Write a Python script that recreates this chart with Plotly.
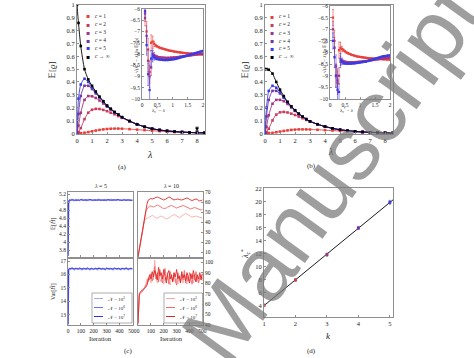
import plotly.graph_objects as go
import numpy as np

W, H = 474, 358
FONT = "Liberation Serif"

# ---------------- panel (a)/(b) data ----------------
lam = [0, 0.1, 0.25, 0.5, 0.75, 1, 1.25, 1.5, 1.75, 2, 2.25, 2.5, 2.75, 3,
       3.5, 4, 4.5, 5, 5.5, 6, 6.5, 7, 7.5, 8, 8.5]

a_inf = [1.0, 0.86, 0.68, 0.50, 0.42, 0.37, 0.325, 0.285, 0.25, 0.215, 0.19, 0.165, 0.145, 0.125,
         0.095, 0.07, 0.05, 0.035, 0.025, 0.018, 0.013, 0.009, 0.006, 0.004, 0.003]
a_c5 = [0, 0.27, 0.38, 0.425, 0.40, 0.36, 0.32, 0.283, 0.248, 0.214, 0.19, 0.165, 0.145, 0.125,
        0.095, 0.07, 0.05, 0.035, 0.025, 0.018, 0.013, 0.009, 0.006, 0.004, 0.003]
a_c4 = [0, 0.15, 0.29, 0.37, 0.37, 0.345, 0.31, 0.278, 0.245, 0.213, 0.189, 0.165, 0.145, 0.125,
        0.095, 0.07, 0.05, 0.035, 0.025, 0.018, 0.013, 0.009, 0.006, 0.004, 0.003]
a_c3 = [0, 0.06, 0.16, 0.26, 0.29, 0.288, 0.275, 0.255, 0.232, 0.207, 0.185, 0.162, 0.143, 0.124,
        0.094, 0.07, 0.05, 0.035, 0.025, 0.018, 0.013, 0.009, 0.006, 0.004, 0.003]
a_c2 = [0, 0.01, 0.04, 0.11, 0.16, 0.183, 0.19, 0.189, 0.182, 0.172, 0.16, 0.148, 0.134, 0.12,
        0.093, 0.069, 0.05, 0.035, 0.025, 0.018, 0.013, 0.009, 0.006, 0.004, 0.003]
a_c1 = [0, 0, 0.001, 0.004, 0.009, 0.015, 0.021, 0.026, 0.03, 0.033, 0.035, 0.036, 0.036, 0.035,
        0.032, 0.028, 0.024, 0.02, 0.016, 0.012, 0.009, 0.007, 0.005, 0.004, 0.003]
a_outlier_x = [8]
a_outlier_y = [0.035]
a_outlier_err = [0.012]

b_inf = [0.5, 0.5, 0.495, 0.465, 0.40, 0.34, 0.29, 0.245, 0.21, 0.18, 0.152, 0.13, 0.11, 0.093,
         0.07, 0.052, 0.038, 0.027, 0.02, 0.014, 0.01, 0.007, 0.005, 0.003, 0.002]
b_c5 = [0, 0.2, 0.33, 0.37, 0.355, 0.32, 0.282, 0.243, 0.209, 0.179, 0.152, 0.13, 0.11, 0.093,
        0.07, 0.052, 0.038, 0.027, 0.02, 0.014, 0.01, 0.007, 0.005, 0.003, 0.002]
b_c4 = [0, 0.13, 0.26, 0.33, 0.33, 0.31, 0.277, 0.24, 0.207, 0.178, 0.151, 0.13, 0.11, 0.093,
        0.07, 0.052, 0.038, 0.027, 0.02, 0.014, 0.01, 0.007, 0.005, 0.003, 0.002]
b_c3 = [0, 0.05, 0.14, 0.23, 0.26, 0.26, 0.25, 0.228, 0.2, 0.174, 0.149, 0.128, 0.109, 0.092,
        0.07, 0.052, 0.038, 0.027, 0.02, 0.014, 0.01, 0.007, 0.005, 0.003, 0.002]
b_c2 = [0, 0.01, 0.035, 0.1, 0.145, 0.163, 0.166, 0.162, 0.153, 0.142, 0.13, 0.117, 0.104, 0.09,
        0.069, 0.052, 0.038, 0.027, 0.02, 0.014, 0.01, 0.007, 0.005, 0.003, 0.002]
b_c1 = [0, 0, 0.001, 0.003, 0.008, 0.013, 0.018, 0.022, 0.026, 0.028, 0.03, 0.03, 0.03, 0.029,
        0.027, 0.024, 0.021, 0.018, 0.015, 0.012, 0.009, 0.007, 0.005, 0.003, 0.002]

# ---------------- inset data ----------------
ix = [0.10, 0.15, 0.20, 0.25, 0.30, 0.35, 0.40, 0.45, 0.50, 0.55, 0.60, 0.65, 0.70, 0.75, 0.80,
      0.85, 0.90, 0.95, 1.00, 1.05, 1.10, 1.15, 1.20, 1.25, 1.30, 1.35, 1.40, 1.45, 1.50, 1.55,
      1.60, 1.65, 1.70, 1.75, 1.80, 1.85, 1.90, 1.95, 2.00]
ierr = [0.35, 0.45, 0.5, 0.5, 0.35, 0.25, 0.12, 0.06, 0.04, 0.03, 0.03, 0.02, 0.02, 0.02, 0.02,
        0.02, 0.02, 0.02, 0.02, 0.02, 0.02, 0.02, 0.02, 0.02, 0.02, 0.02, 0.02, 0.02, 0.02, 0.02,
        0.02, 0.02, 0.02, 0.02, 0.02, 0.02, 0.02, 0.02, 0.02]
ia_red = [-6.4, -7.0, -7.8, -8.8, -7.5, -7.45, -7.55, -7.62, -7.66, -7.7, -7.73, -7.75, -7.77,
          -7.79, -7.81, -7.83, -7.85, -7.86, -7.87, -7.89, -7.9, -7.91, -7.92, -7.93, -7.94, -7.95,
          -7.96, -7.96, -7.97, -7.98, -7.98, -7.99, -7.99, -8.0, -8.0, -8.01, -8.01, -8.02, -8.02]
ia_pur = [-6.2, -7.2, -8.3, -9.0, -8.6, -8.0, -8.05, -8.1, -8.12, -8.14, -8.15, -8.16, -8.16,
          -8.17, -8.17, -8.17, -8.17, -8.16, -8.16, -8.15, -8.15, -8.14, -8.13, -8.12, -8.11, -8.1,
          -8.1, -8.09, -8.08, -8.07, -8.06, -8.05, -8.04, -8.03, -8.02, -8.01, -8.0, -7.99, -7.98]
ia_blu = [-6.1, -7.6, -8.9, -9.6, -8.2, -8.1, -8.15, -8.2, -8.22, -8.24, -8.25, -8.26, -8.27,
          -8.27, -8.27, -8.27, -8.26, -8.25, -8.24, -8.23, -8.22, -8.2, -8.18, -8.16, -8.14, -8.12,
          -8.1, -8.08, -8.06, -8.04, -8.02, -8.0, -7.98, -7.96, -7.94, -7.92, -7.9, -7.88, -7.86]
ib_red = [-6.5, -7.5, -9.0, -9.3, -7.9, -7.8, -7.85, -7.9, -7.95, -8.0, -8.03, -8.06, -8.09,
          -8.11, -8.13, -8.15, -8.17, -8.18, -8.19, -8.2, -8.21, -8.22, -8.23, -8.24, -8.25, -8.25,
          -8.26, -8.26, -8.27, -8.27, -8.28, -8.28, -8.28, -8.29, -8.29, -8.29, -8.3, -8.3, -8.3]
ib_pur = [-7.0, -7.8, -8.6, -9.2, -9.0, -8.4, -8.35, -8.38, -8.4, -8.41, -8.42, -8.42, -8.42,
          -8.42, -8.42, -8.41, -8.41, -8.4, -8.4, -8.39, -8.38, -8.38, -8.37, -8.36, -8.35, -8.34,
          -8.33, -8.32, -8.31, -8.3, -8.29, -8.28, -8.27, -8.26, -8.25, -8.24, -8.23, -8.22, -8.21]
ib_blu = [-7.5, -8.2, -9.0, -9.6, -9.7, -8.3, -8.4, -8.45, -8.47, -8.48, -8.48, -8.48, -8.48,
          -8.47, -8.47, -8.46, -8.45, -8.44, -8.43, -8.42, -8.41, -8.4, -8.39, -8.37, -8.35, -8.33,
          -8.31, -8.29, -8.27, -8.25, -8.23, -8.21, -8.19, -8.17, -8.16, -8.15, -8.14, -8.13, -8.12]

# ---------------- panel (c) data ----------------
it = [0, 4] + list(range(10, 501, 10))
tl_5 = [3.66, 4.96, 5.06, 5.03, 5.08, 5.05, 5.02, 5.07, 5.04, 5.06,
        5.03, 5.05, 5.08, 5.04, 5.06, 5.02, 5.05, 5.07, 5.04, 5.06,
        5.03, 5.05, 5.07, 5.04, 5.05, 5.08, 5.03, 5.06, 5.04, 5.05,
        5.07, 5.03, 5.06, 5.04, 5.05, 5.08, 5.04, 5.06, 5.03, 5.05,
        5.07, 5.04, 5.06, 5.03, 5.05, 5.07, 5.04, 5.05, 5.06, 5.03, 5.05, 5.04]
tl_6 = [3.66, 4.98, 5.05, 5.04, 5.06, 5.05, 5.04, 5.06, 5.05, 5.05,
        5.04, 5.06, 5.05, 5.04, 5.05, 5.06, 5.04, 5.05, 5.06, 5.05,
        5.04, 5.05, 5.06, 5.05, 5.04, 5.06, 5.05, 5.04, 5.05, 5.06,
        5.05, 5.04, 5.05, 5.06, 5.05, 5.04, 5.05, 5.06, 5.05, 5.04,
        5.06, 5.05, 5.04, 5.05, 5.06, 5.05, 5.04, 5.05, 5.05, 5.06, 5.05, 5.04]
tl_7 = [3.66, 5.00, 5.05, 5.05, 5.06, 5.05, 5.05, 5.04, 5.05, 5.05,
        5.05, 5.06, 5.05, 5.05, 5.05, 5.04, 5.05, 5.05, 5.06, 5.05,
        5.05, 5.05, 5.04, 5.05, 5.05, 5.06, 5.05, 5.05, 5.05, 5.04,
        5.05, 5.05, 5.06, 5.05, 5.05, 5.05, 5.04, 5.05, 5.05, 5.06,
        5.05, 5.05, 5.05, 5.04, 5.05, 5.05, 5.06, 5.05, 5.05, 5.05, 5.04, 5.05]
tr_5 = [5, 8, 13, 21, 29, 36, 41, 43, 44, 44.5,
        45, 46, 46.5, 46, 45, 44, 44, 44.5, 45.5, 46,
        45.5, 44.5, 43.5, 43, 43.5, 44, 45, 46, 47, 47.5,
        47, 46, 45, 44.5, 45, 46, 47, 48, 48.5, 48,
        47, 46, 45.5, 45, 45.5, 46, 46, 45.5, 45, 44.5, 44, 44]
tr_6 = [5, 8, 13, 21, 29, 37, 44, 50, 53, 55,
        56, 56, 55.5, 55, 55.5, 56.5, 57, 56.5, 55.5, 54.5,
        54, 53.5, 53.5, 54, 55, 55.5, 56, 56.5, 56, 55,
        54.5, 54, 54.5, 55, 55.5, 56, 56.5, 56, 55.5, 55,
        54, 53.5, 53, 53.5, 54, 54.5, 54, 53.5, 53, 52.5, 52, 52.5]
tr_7 = [5, 8, 13, 21, 29, 37, 45, 52, 58, 62,
        63, 63.5, 63, 63.5, 64.5, 65, 65, 64.5, 64, 63,
        62.5, 62, 62.5, 63.5, 64.5, 65, 64.5, 63.5, 62.5, 62,
        62.5, 63, 63, 62.5, 62, 62, 62.5, 63, 63.5, 64,
        63.5, 62.5, 62, 61.5, 62, 62.5, 63, 62.5, 61.5, 61, 61.5, 62]
bl_5 = [12.3, 16.2, 16.5, 16.35, 16.55, 16.4, 16.3, 16.5, 16.45, 16.35,
        16.55, 16.4, 16.3, 16.5, 16.4, 16.35, 16.55, 16.45, 16.3, 16.5,
        16.4, 16.35, 16.5, 16.45, 16.3, 16.55, 16.4, 16.35, 16.5, 16.4,
        16.3, 16.55, 16.45, 16.35, 16.5, 16.4, 16.3, 16.55, 16.4, 16.35,
        16.5, 16.45, 16.3, 16.5, 16.4, 16.35, 16.55, 16.4, 16.3, 16.45, 16.5, 16.4]
bl_6 = [12.3, 16.3, 16.45, 16.4, 16.5, 16.42, 16.38, 16.48, 16.43, 16.4,
        16.47, 16.42, 16.38, 16.46, 16.41, 16.39, 16.48, 16.43, 16.38, 16.46,
        16.42, 16.39, 16.47, 16.43, 16.38, 16.48, 16.42, 16.4, 16.46, 16.42,
        16.38, 16.47, 16.44, 16.39, 16.46, 16.42, 16.38, 16.48, 16.42, 16.4,
        16.46, 16.43, 16.38, 16.47, 16.42, 16.39, 16.48, 16.42, 16.38, 16.45, 16.46, 16.42]
bl_7 = [12.3, 16.35, 16.43, 16.42, 16.44, 16.42, 16.41, 16.43, 16.42, 16.42,
        16.43, 16.42, 16.41, 16.43, 16.42, 16.42, 16.44, 16.42, 16.41, 16.43,
        16.42, 16.41, 16.43, 16.42, 16.42, 16.44, 16.42, 16.41, 16.43, 16.42,
        16.41, 16.43, 16.42, 16.42, 16.44, 16.42, 16.41, 16.43, 16.42, 16.42,
        16.43, 16.42, 16.41, 16.43, 16.42, 16.42, 16.44, 16.42, 16.41, 16.42, 16.43, 16.42]
br_5 = [40, 58, 68, 70, 71, 73, 76, 79, 84, 81,
        86, 80, 88, 83, 102, 85, 80, 90, 84, 81,
        87, 79, 85, 83, 90, 81, 78, 86, 82, 88,
        80, 84, 79, 87, 82, 85, 80, 88, 83, 79,
        86, 81, 84, 89, 80, 85, 82, 87, 81, 84, 86, 82]
br_6 = [41, 60, 69, 71, 72, 73, 75, 77, 80, 85,
        83, 89, 82, 87, 96, 84, 90, 81, 93, 86,
        80, 88, 94, 83, 87, 79, 91, 85, 82, 89,
        84, 78, 90, 86, 81, 88, 83, 92, 80, 87,
        82, 90, 85, 79, 88, 83, 91, 84, 80, 86, 88, 84]
br_7 = [42, 62, 70, 72, 73, 74, 75, 76, 78, 82,
        88, 84, 91, 86, 92, 88, 83, 95, 87, 90,
        84, 93, 86, 80, 89, 92, 84, 88, 81, 90,
        86, 93, 84, 87, 80, 91, 85, 88, 82, 90,
        86, 80, 89, 84, 92, 85, 81, 88, 84, 90, 83, 89]

# ---------------- panel (d) data ----------------
k_vals = [1, 2, 3, 4, 5]
lamc_vals = [4.1, 8.0, 11.9, 16.0, 19.95]
lamc_err = [0.2, 0.2, 0.25, 0.25, 0.3]
k_fit_span = [1, 5.1]

# colours
C_COLS = ["#e8413c", "#cc3b5e", "#a33683", "#7433a6", "#3b3be6"]
C_LAB = ["<i>c</i> = 1", "<i>c</i> = 2", "<i>c</i> = 3", "<i>c</i> = 4", "<i>c</i> = 5", "<i>c</i> → ∞"]
N_BLUE = ["#a8acf2", "#6a6ef0", "#2f2fe6"]
N_RED = ["#f6aaaa", "#ef6a6a", "#e02828"]
N_LAB = ["𝒩 = 10<sup>5</sup>", "𝒩 = 10<sup>6</sup>", "𝒩 = 10<sup>7</sup>"]


def xd(a, b):
    return [a / W, b / W]


def yd(t, b):
    return [1 - b / H, 1 - t / H]


fig = go.Figure()

# ---- main curves (a) & (b)
for ax, series, inf in [("", [a_c1, a_c2, a_c3, a_c4, a_c5], a_inf),
                        ("3", [b_c1, b_c2, b_c3, b_c4, b_c5], b_inf)]:
    xa, ya = "x" + ax, "y" + ax
    for s, col in zip(series, C_COLS):
        fig.add_trace(go.Scatter(x=lam, y=s, xaxis=xa, yaxis=ya, mode="lines+markers",
                                 line=dict(color=col, width=0.9, shape="spline", smoothing=0.6),
                                 marker=dict(color=col, size=2.6, symbol="square"),
                                 showlegend=False))
    fig.add_trace(go.Scatter(x=lam, y=inf, xaxis=xa, yaxis=ya, mode="lines+markers",
                             line=dict(color="black", width=0.9, shape="spline", smoothing=0.6),
                             marker=dict(color="black", size=2.6, symbol="square"),
                             showlegend=False))
fig.add_trace(go.Scatter(x=a_outlier_x, y=a_outlier_y, xaxis="x", yaxis="y", mode="markers",
                         marker=dict(color="black", size=3.5, symbol="triangle-down"),
                         error_y=dict(type="data", array=a_outlier_err, color="black", thickness=0.8, width=1.5),
                         showlegend=False))

# ---- insets
for ax, sets in [("2", [ia_red, ia_pur, ia_blu]), ("4", [ib_red, ib_pur, ib_blu])]:
    for s, col in zip(sets, [C_COLS[0], C_COLS[2], C_COLS[4]]):
        fig.add_trace(go.Scatter(x=ix, y=s, xaxis="x" + ax, yaxis="y" + ax, mode="markers",
                                 marker=dict(color=col, size=2.3, symbol="square"),
                                 error_y=dict(type="data", array=ierr, color=col, thickness=0.6, width=0.8),
                                 showlegend=False))

# ---- panel (c)
for ax, sets, cols in [("5", [tl_5, tl_6, tl_7], N_BLUE), ("6", [tr_5, tr_6, tr_7], N_RED),
                       ("7", [bl_5, bl_6, bl_7], N_BLUE), ("8", [br_5, br_6, br_7], N_RED)]:
    for s, col in zip(sets, cols):
        fig.add_trace(go.Scatter(x=it, y=s, xaxis="x" + ax, yaxis="y" + ax, mode="lines",
                                 line=dict(color=col, width=0.9), showlegend=False))

# ---- panel (d)
coef = np.polyfit(k_vals, lamc_vals, 1)
fig.add_trace(go.Scatter(x=k_fit_span, y=list(np.polyval(coef, k_fit_span)), xaxis="x9", yaxis="y9",
                         mode="lines", line=dict(color="black", width=0.9), showlegend=False))
fig.add_trace(go.Scatter(x=k_vals, y=lamc_vals, xaxis="x9", yaxis="y9", mode="markers",
                         marker=dict(color=C_COLS, size=3, symbol="square"),
                         error_y=dict(type="data", array=lamc_err, color="#555", thickness=0.6, width=1),
                         showlegend=False))

base = dict(showline=True, mirror=True, linecolor="#8f8f8f", linewidth=1, ticks="inside",
            ticklen=2, tickwidth=0.6, tickcolor="#8f8f8f", showgrid=False, zeroline=False,
            automargin=False, tickfont=dict(family=FONT, size=6.5, color="#222"))
small = dict(base, tickfont=dict(family=FONT, size=5.5, color="#222"))

lay = {}
lay["xaxis"] = dict(base, domain=xd(77, 205), range=[0, 8.53], dtick=1, tick0=0, anchor="y")
lay["yaxis"] = dict(base, domain=yd(5, 134), range=[-0.006, 1], dtick=0.1, tick0=0, anchor="x")
lay["xaxis2"] = dict(small, domain=xd(142, 203), range=[0, 2], dtick=0.5, tick0=0, anchor="y2")
lay["yaxis2"] = dict(small, domain=yd(9, 99), range=[-10, -6], dtick=0.5, tick0=-10, anchor="x2")
lay["xaxis3"] = dict(base, domain=xd(265, 393), range=[0, 8.53], dtick=1, tick0=0, anchor="y3")
lay["yaxis3"] = dict(base, domain=yd(5, 134), range=[-0.006, 1], dtick=0.1, tick0=0, anchor="x3")
lay["xaxis4"] = dict(small, domain=xd(330, 390), range=[0, 2], dtick=0.5, tick0=0, anchor="y4")
lay["yaxis4"] = dict(small, domain=yd(6, 99), range=[-10, -6], dtick=0.5, tick0=-10, anchor="x4")
lay["xaxis5"] = dict(small, domain=xd(68, 133), range=[0, 505], dtick=100, showticklabels=False, anchor="y5")
lay["yaxis5"] = dict(small, domain=yd(192, 257), range=[3.63, 5.25], dtick=0.2, tick0=3.8, anchor="x5")
lay["xaxis6"] = dict(small, domain=xd(138, 203), range=[0, 505], dtick=100, showticklabels=False, anchor="y6")
lay["yaxis6"] = dict(small, domain=yd(192, 257), range=[5, 70], dtick=10, tick0=10, side="right", anchor="x6")
lay["xaxis7"] = dict(small, domain=xd(68, 133), range=[0, 505], dtick=100, tick0=100, anchor="y7")
lay["yaxis7"] = dict(small, domain=yd(259, 325), range=[12.25, 17.15], dtick=1, tick0=13, anchor="x7")
lay["xaxis8"] = dict(small, domain=xd(138, 203), range=[0, 505], dtick=100, tick0=100, anchor="y8")
lay["yaxis8"] = dict(small, domain=yd(259, 325), range=[40, 103], dtick=10, tick0=40, side="right", anchor="x8")
lay["xaxis9"] = dict(base, domain=xd(264, 393), range=[1, 5.1], dtick=1, tick0=1, anchor="y9")
lay["yaxis9"] = dict(base, domain=yd(188, 317), range=[2.3, 22.15], dtick=2, tick0=4, anchor="x9")

ann = []


def txt(x, y, s, size=7, angle=0, color="#222", xanchor="center", family=FONT):
    ann.append(dict(x=x / W, y=1 - y / H, xref="paper", yref="paper", text=s, showarrow=False,
                    xanchor=xanchor, yanchor="middle", textangle=angle,
                    font=dict(family=family, size=size, color=color)))


# axis titles / captions
txt(52, 70, "𝔼[<i>ϱ</i>]", 9, -90)
txt(150, 154, "<i>λ</i>", 10)
txt(122, 167, "(a)", 7)
txt(245, 70, "𝔼[<i>ϱ</i>]", 9, -90)
txt(331, 151, "<i>λ</i>", 10)
txt(311, 166, "(b)", 7)
for xx, yy in [(136, 55), (324, 55)]:
    txt(xx, yy, "√(<i>λ</i><sub>c</sub><sup>*</sup> − <i>λ</i>) ln 𝔼[<i>ϱ</i>]", 5, -90)
txt(158, 110.5, "<i>λ</i><sub>c</sub><sup>*</sup> − <i>λ</i>", 5)
txt(346, 110.5, "<i>λ</i><sub>c</sub><sup>*</sup> − <i>λ</i>", 5)

txt(100, 186, "<i>λ</i> = 5", 6)
txt(171, 186, "<i>λ</i> = 10", 6)
txt(53, 224, "𝔼[<i>Ĥ</i>]", 6, -90)
txt(53, 292, "Var[<i>Ĥ</i>]", 6, -90)
txt(100, 338, "Iteration", 6.5)
txt(171, 338, "Iteration", 6.5)
txt(128, 351, "(c)", 7)

txt(245, 254, "<i>λ</i><sub>c</sub><sup>*</sup>", 8, -90)
txt(328, 336, "<i>k</i>", 9)
txt(311, 351, "(d)", 7)

# legends (a),(b)
for lx, ly0 in [(88, 16), (272, 16.5)]:
    for i, lab in enumerate(C_LAB):
        col = C_COLS[i] if i < 5 else "black"
        txt(lx, ly0 + 8 * i, "▪", 6, color=col, family="DejaVu Sans")
        txt(lx + 5, ly0 + 8 * i, lab, 5.5, xanchor="left")

# legends (c)
shapes = []
for bx0, bx1, cols in [(92, 132, N_BLUE), (164, 202.5, N_RED)]:
    shapes.append(dict(type="rect", xref="paper", yref="paper", x0=bx0 / W, x1=bx1 / W,
                       y0=1 - 323 / H, y1=1 - 293 / H, line=dict(color="#777", width=0.6),
                       fillcolor="white", layer="above"))
    for i, (lab, col) in enumerate(zip(N_LAB, cols)):
        yy = 298.5 + 9 * i
        shapes.append(dict(type="line", xref="paper", yref="paper", x0=(bx0 + 2) / W, x1=(bx0 + 11) / W,
                           y0=1 - yy / H, y1=1 - yy / H, line=dict(color=col, width=1), layer="above"))
        txt(bx0 + 14, yy, lab, 5, xanchor="left")

# watermark
ann.append(dict(x=332 / W, y=1 - 173 / H, xref="paper", yref="paper", text="Manuscript",
                showarrow=False, textangle=-54, xanchor="center", yanchor="middle",
                font=dict(family="Liberation Sans", size=90, color="rgba(120,120,120,0.72)")))

fig.update_layout(width=W, height=H, margin=dict(l=0, r=0, t=0, b=0),
                  paper_bgcolor="white", plot_bgcolor="white", showlegend=False,
                  annotations=ann, shapes=shapes, **lay)

fig.write_html("out.html", config={"displayModeBar": False},
               post_script="document.body.style.margin='0px';document.body.style.overflow='hidden';")
